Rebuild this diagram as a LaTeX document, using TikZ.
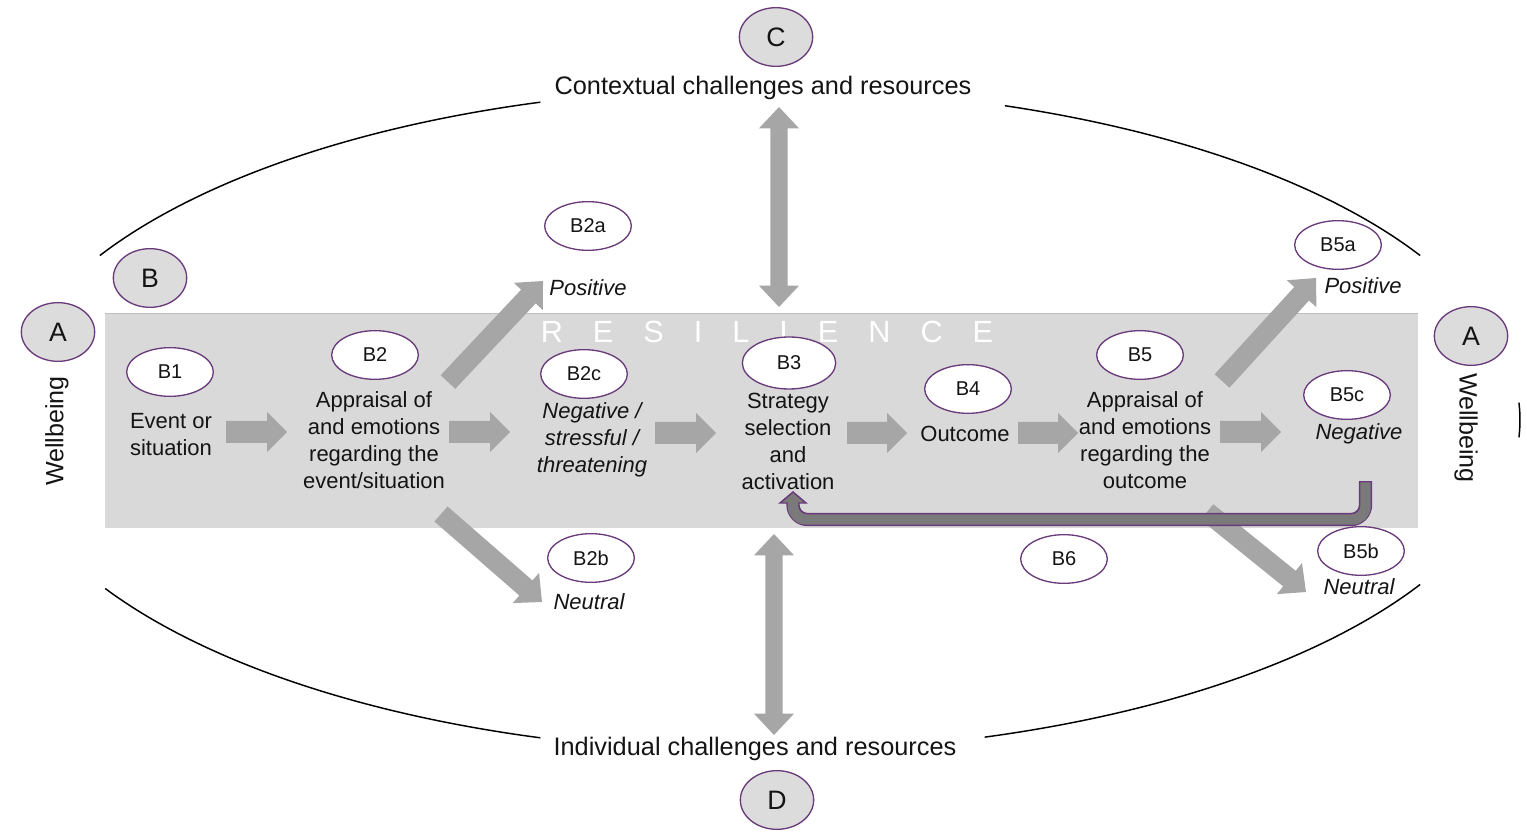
\documentclass[tikz,border=0pt]{standalone}
\usepackage{fontspec}
\setmainfont{Liberation Sans}
\usetikzlibrary{shapes.geometric,calc}
\definecolor{purp}{HTML}{6A3B7A}
\definecolor{cfill}{HTML}{DCDCDC}
\definecolor{band}{HTML}{D9D9D9}
\definecolor{agray}{HTML}{A6A6A6}
\definecolor{dgray}{HTML}{7A7A7A}
\definecolor{tcol}{HTML}{141414}
\tikzset{
  bell/.style={ellipse, draw=purp, line width=1pt, fill=white, minimum width=65pt, minimum height=36.5pt, inner sep=0pt, text=tcol, font=\fontsize{15}{18}\selectfont},
  bellb/.style={bell, minimum width=70pt, minimum height=39pt},
  circ/.style={ellipse, draw=purp, line width=1pt, fill=cfill, minimum width=55pt, minimum height=44pt, inner sep=0pt, text=tcol, font=\fontsize{20}{24}\selectfont},
  body/.style={align=center, text=tcol, inner sep=0pt, font=\fontsize{16.5}{20.25}\selectfont},
  ibody/.style={align=center, text=tcol, inner sep=0pt, font=\fontsize{16.5}{20.25}\selectfont\itshape},
  ttl/.style={text=tcol, inner sep=0pt, font=\fontsize{19}{23}\selectfont},
  wb/.style={text=tcol, inner sep=0pt, font=\fontsize{18.8}{22}\selectfont},
  ring/.style={line width=1.1pt, draw=black},
  res/.style={text=white, inner sep=0pt, font=\fontsize{23}{26}\selectfont}
}
% block arrow: #1 start, #2 tip, #3 half shaft, #4 half head, #5 head length
\newcommand\blkarrow[5]{%
  \coordinate (tmpc) at ($(#2)!#5!(#1)$);
  \fill[agray] ($(#1)!#3!90:(#2)$) -- ($(tmpc)!#3!90:(#2)$) -- ($(tmpc)!#4!90:(#2)$) -- (#2)
    -- ($(tmpc)!#4!-90:(#2)$) -- ($(tmpc)!#3!-90:(#2)$) -- ($(#1)!#3!-90:(#2)$) -- cycle;}
% double block arrow
\newcommand\blkdarrow[5]{%
  \coordinate (tmpa) at ($(#1)!#5!(#2)$);
  \coordinate (tmpb) at ($(#2)!#5!(#1)$);
  \fill[agray] (#1) -- ($(tmpa)!#4!90:(#2)$) -- ($(tmpa)!#3!90:(#2)$) -- ($(tmpb)!#3!-90:(#1)$)
    -- ($(tmpb)!#4!-90:(#1)$) -- (#2) -- ($(tmpb)!#4!90:(#1)$) -- ($(tmpb)!#3!90:(#1)$)
    -- ($(tmpa)!#3!-90:(#2)$) -- ($(tmpa)!#4!-90:(#2)$) -- cycle;}
\newcommand\rsp{\kern22.5pt\relax}
\begin{document}
\begin{tikzpicture}[x=0.75pt,y=-0.75pt]
\useasboundingbox (0,0) rectangle (1527,837);
% outer ellipse arcs
\draw[ring] plot[domain=150.3:106.8, samples=60] ({760+760*cos(\x)},{420-332*sin(\x)});
\draw[ring] plot[domain=71.2:29.7, samples=60] ({760+760*cos(\x)},{420-332*sin(\x)});
\draw[ring] plot[domain=-149.5:-106.8, samples=60] ({760+760*cos(\x)},{420-332*sin(\x)});
\draw[ring] plot[domain=-72.8:-29.7, samples=60] ({760+760*cos(\x)},{420-332*sin(\x)});
\draw[ring] plot[domain=-3:3, samples=10] ({760+760*cos(\x)},{420-332*sin(\x)});
% band
\fill[band] (105,313) rectangle (1418,528);
\draw[line width=0.8pt, draw=white!75!black] (105,313.5) -- (1418,313.5);
\node[res] (resil) at (767,332) {R\rsp E\rsp S\rsp I\rsp L\rsp I\rsp E\rsp N\rsp C\rsp E};
% arrow coordinates
\coordinate (a1s) at (226,432); \coordinate (a1e) at (287,432);
\coordinate (a2s) at (449,432); \coordinate (a2e) at (510,432);
\coordinate (a3s) at (655,433); \coordinate (a3e) at (716,433);
\coordinate (a4s) at (847,433); \coordinate (a4e) at (907,433);
\coordinate (a5s) at (1018,433); \coordinate (a5e) at (1078,433);
\coordinate (a6s) at (1220,432); \coordinate (a6e) at (1281,432);
\coordinate (d1s) at (448,382); \coordinate (d1e) at (543,281);
\coordinate (d2s) at (441,514); \coordinate (d2e) at (542,602);
\coordinate (d3s) at (1222,381); \coordinate (d3e) at (1316,278);
\coordinate (d4s) at (1207,512); \coordinate (d4e) at (1306,592);
\coordinate (v1s) at (779,107); \coordinate (v1e) at (779,307);
\coordinate (v2s) at (774,534); \coordinate (v2e) at (774,735);
\blkarrow{a1s}{a1e}{8.25pt}{15pt}{15pt}
\blkarrow{a2s}{a2e}{8.25pt}{15pt}{15pt}
\blkarrow{a3s}{a3e}{8.25pt}{15pt}{15pt}
\blkarrow{a4s}{a4e}{8.25pt}{15pt}{15pt}
\blkarrow{a5s}{a5e}{8.25pt}{15pt}{15pt}
\blkarrow{a6s}{a6e}{8.25pt}{15pt}{15pt}
\blkarrow{d1s}{d1e}{7.5pt}{15pt}{16pt}
\blkarrow{d2s}{d2e}{7.5pt}{15pt}{16pt}
\blkarrow{d3s}{d3e}{7.5pt}{15pt}{16pt}
\blkarrow{d4s}{d4e}{7.5pt}{15pt}{16pt}
\blkdarrow{v1s}{v1e}{6.4pt}{15pt}{16pt}
\blkdarrow{v2s}{v2e}{6.4pt}{15pt}{16pt}
% B6 feedback arrow
\coordinate (b6s) at (1365.5,481);
\coordinate (b6c1) at (1365.5,519.5);
\coordinate (b6c2) at (793,519.5);
\coordinate (b6e) at (793,503);
\coordinate (b6f) at (793,500);
\coordinate (b6t) at (793,492);
\draw[purp, line width=10pt, rounded corners=11pt] (b6s) -- (b6c1) -- (b6c2) -- (b6e);
\filldraw[fill=dgray, draw=purp, line width=1.1pt, line join=miter] (b6t) -- ($(b6e)+(13,0)$) -- ($(b6e)+(-13,0)$) -- cycle;
\draw[dgray, line width=7.8pt, rounded corners=10pt, shorten <=1.1pt] (b6s) -- (b6c1) -- (b6c2) -- (b6f);
% circles
\node[circ] (Al) at (58,332) {A};
\node[circ] (B) at (150,278) {B};
\node[circ] (C) at (776,37) {C};
\node[circ] (D) at (777,800) {D};
\node[circ] (Ar) at (1471,336) {A};
% ellipses
\node[bell] (B1) at (170,372) {B1};
\node[bell] (B2) at (375,355) {B2};
\node[bell] (B2a) at (588,226) {B2a};
\node[bell] (B2c) at (584,374) {B2c};
\node[bell] (B2b) at (591,558) {B2b};
\node[bellb] (B3) at (789,363) {B3};
\node[bell] (B4) at (968,389) {B4};
\node[bell] (B5) at (1140,355) {B5};
\node[bell] (B5a) at (1338,245) {B5a};
\node[bell] (B5c) at (1347,395) {B5c};
\node[bell] (B5b) at (1361,551) {B5b};
\node[bell] (B6) at (1064,559) {B6};
% texts
\node[ttl] (ctx) at (763,88) {Contextual challenges and resources};
\node[ttl] (ind) at (755,749) {Individual challenges and resources};
\node[wb, rotate=90] (wl) at (57,431) {Wellbeing};
\node[wb, rotate=-90] (wr) at (1466,428) {Wellbeing};
\node[body] (t1) at (171,435) {Event or\\situation};
\node[body] (t2) at (374,440) {Appraisal of\\and emotions\\regarding the\\event/situation};
\node[ibody] (t2a) at (588,288) {Positive};
\node[ibody] (t2c) at (592,440) {Negative /\\stressful /\\threatening};
\node[ibody] (t2b) at (589,602) {Neutral};
\node[body] (t3) at (788,441) {Strategy\\selection\\and\\activation};
\node[body] (t4) at (965,434) {Outcome};
\node[body] (t5) at (1145,440) {Appraisal of\\and emotions\\regarding the\\outcome};
\node[ibody] (t5a) at (1363,286) {Positive};
\node[ibody] (t5c) at (1359,434) {Negative};
\node[ibody] (t5b) at (1359,587) {Neutral};
\end{tikzpicture}
\end{document}
